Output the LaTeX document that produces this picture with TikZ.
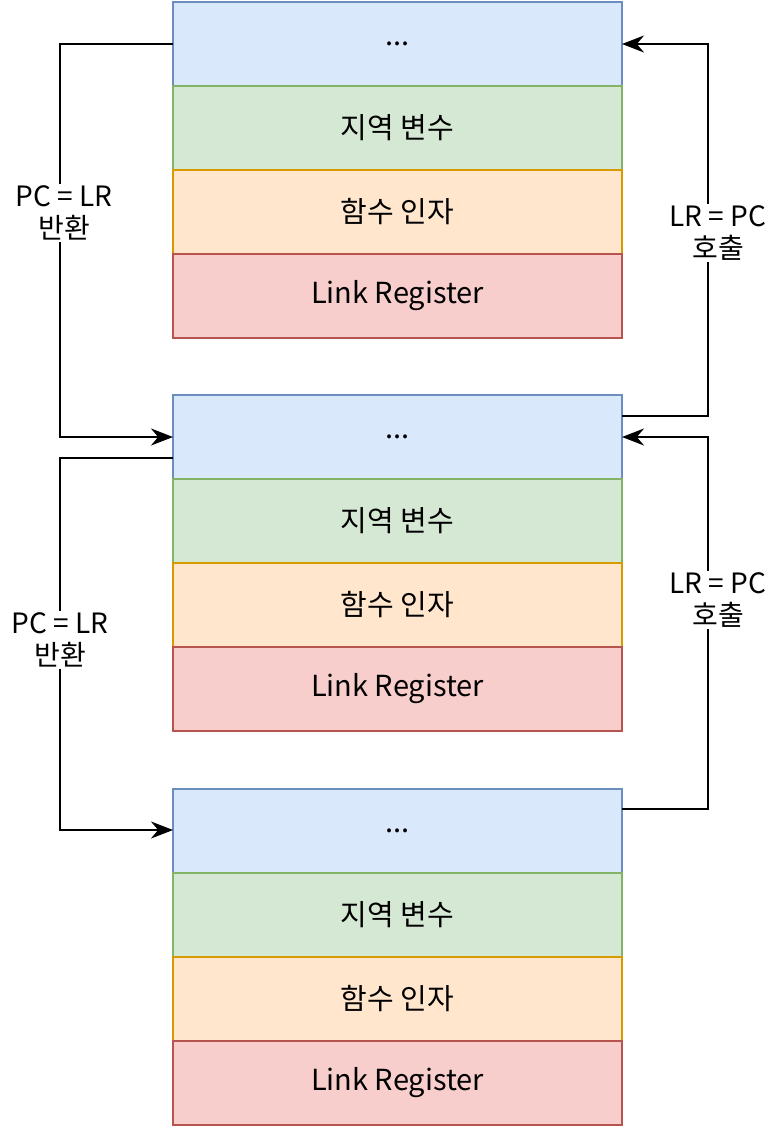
\documentclass[tikz,border=0pt]{standalone}
\usepackage{fontspec}
\setmainfont{Noto Sans CJK KR}
\usetikzlibrary{arrows.meta}
\definecolor{bF}{HTML}{DAE8FC}\definecolor{bS}{HTML}{6C8EBF}
\definecolor{gF}{HTML}{D5E8D4}\definecolor{gS}{HTML}{82B366}
\definecolor{oF}{HTML}{FFE6CC}\definecolor{oS}{HTML}{D79B00}
\definecolor{rF}{HTML}{F8CECC}\definecolor{rS}{HTML}{B85450}
\begin{document}
\begin{tikzpicture}[x=1pt,y=-1pt,
 cell/.style={draw, line width=2pt, minimum width=449pt, minimum height=84pt, inner sep=0, font=\fontsize{29}{34}\selectfont},
 blue/.style={cell, fill=bF, draw=bS}, green/.style={cell, fill=gF, draw=gS},
 orange/.style={cell, fill=oF, draw=oS}, red/.style={cell, fill=rF, draw=rS},
 conn/.style={line width=2.2pt, -{Stealth[length=22pt,width=17pt]}},
 lbl/.style={fill=white, align=center, inner sep=2pt, font=\fontsize{28}{32}\selectfont}]
\useasboundingbox (0,0) rectangle (768,1128);
\foreach \i/\y in {1/2,2/395,3/789}{
 \node[blue] (a\i) at (397.5,\y+42) {...};
 \node[green] (b\i) at (397.5,\y+126) {지역 변수};
 \node[orange] (c\i) at (397.5,\y+210) {함수 인자};
 \node[red] (d\i) at (397.5,\y+294) {Link Register};
}
\coordinate (l1s) at (173,44); \coordinate (l1e) at (173,437);
\coordinate (l2s) at (173,458); \coordinate (l2e) at (173,830);
\coordinate (r1s) at (622,416); \coordinate (r1e) at (622,44);
\coordinate (r2s) at (622,809); \coordinate (r2e) at (622,437);
\draw[conn] (l1s) -- (60,44) -- (60,437) -- (l1e);
\draw[conn] (l2s) -- (60,458) -- (60,830) -- (l2e);
\draw[conn] (r1s) -- (708,416) -- (708,44) -- (r1e);
\draw[conn] (r2s) -- (708,809) -- (708,437) -- (r2e);
\node[lbl] (t1) at (64,213) {PC = LR\\반환};
\node[lbl] (t2) at (60,640) {PC = LR\\반환};
\node[lbl] (t3) at (718,233) {LR = PC\\호출};
\node[lbl] (t4) at (718,600) {LR = PC\\호출};
\end{tikzpicture}
\end{document}
